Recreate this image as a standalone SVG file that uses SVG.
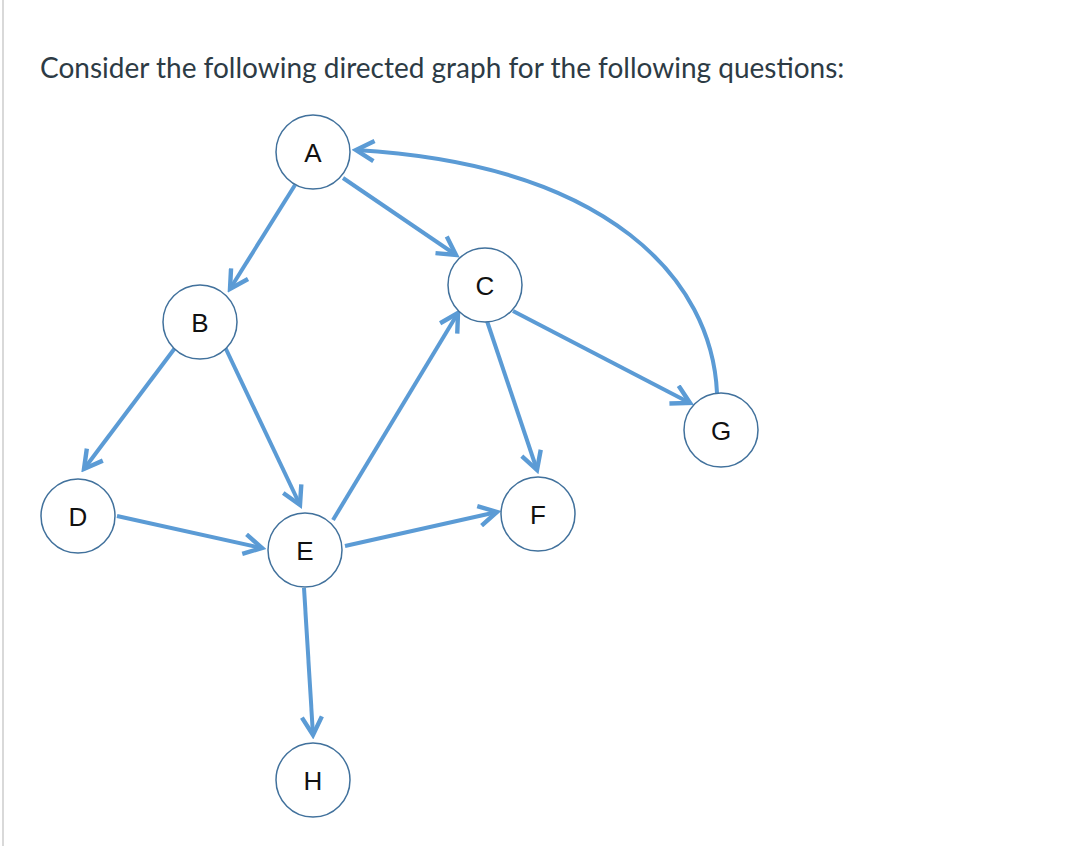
<svg xmlns="http://www.w3.org/2000/svg" width="1074" height="846" viewBox="0 0 1074 846">
<style>
.n{fill:#fff;stroke:#41719c;stroke-width:1.5}
.t{font-family:"Liberation Sans",Arial,sans-serif;font-size:26px;fill:#111;text-anchor:middle}
.e{fill:none;stroke:#5b9bd5;stroke-width:4;marker-end:url(#ah)}
</style>
<defs>
<marker id="ah" viewBox="0 0 12 12" refX="10" refY="6" markerWidth="6" markerHeight="6" orient="auto" markerUnits="strokeWidth">
<polyline points="1,1 10,6 1,11" fill="none" stroke="#5b9bd5" stroke-width="2.2" stroke-linejoin="miter"/>
</marker>
</defs>
<rect width="1074" height="846" fill="#fff"/>
<line x1="3" y1="0" x2="3" y2="846" stroke="#ccc" stroke-width="1.5"/>
<text x="40" y="78" style="font-family:Lato,'Liberation Sans',sans-serif;font-size:28px;fill:#2d3b45">Consider the following directed graph for the following questions:</text>
<g id="edges">
<line class="e" x1="295" y1="185" x2="230" y2="289"/>
<line class="e" x1="343" y1="178" x2="456" y2="255"/>
<line class="e" x1="487" y1="321" x2="537" y2="470"/>
<line class="e" x1="513" y1="311" x2="690" y2="403"/>
<path class="e" d="M717,393 C712,280 610,165 356,150"/>
<line class="e" x1="175" y1="348" x2="84" y2="469"/>
<line class="e" x1="225" y1="347" x2="300" y2="505"/>
<line class="e" x1="117" y1="516" x2="262" y2="548"/>
<line class="e" x1="333" y1="520" x2="458" y2="313"/>
<line class="e" x1="345" y1="546" x2="497" y2="512"/>
<line class="e" x1="304" y1="588" x2="313" y2="735"/>
</g>
<g id="A"><circle class="n" cx="313" cy="152" r="37"/><text class="t" x="313" y="162">A</text></g>
<g id="B"><circle class="n" cx="200" cy="322" r="37"/><text class="t" x="200" y="332">B</text></g>
<g id="C"><circle class="n" cx="485" cy="285" r="37"/><text class="t" x="485" y="295">C</text></g>
<g id="D"><circle class="n" cx="78" cy="516" r="37"/><text class="t" x="78" y="526">D</text></g>
<g id="E"><circle class="n" cx="305" cy="550" r="37"/><text class="t" x="305" y="560">E</text></g>
<g id="F"><circle class="n" cx="538" cy="514" r="37"/><text class="t" x="538" y="524">F</text></g>
<g id="G"><circle class="n" cx="721" cy="430" r="37"/><text class="t" x="721" y="440">G</text></g>
<g id="H"><circle class="n" cx="313" cy="780" r="37"/><text class="t" x="313" y="790">H</text></g>
</svg>
